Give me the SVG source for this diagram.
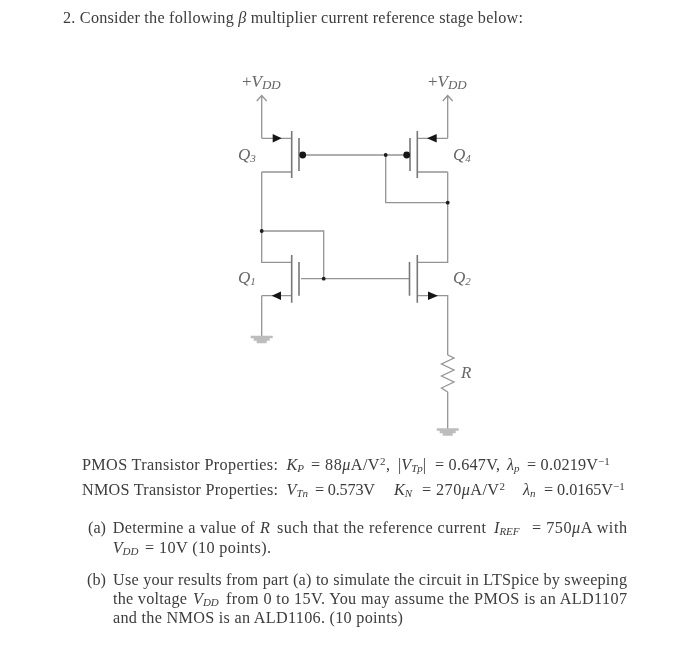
<svg xmlns="http://www.w3.org/2000/svg" width="700" height="670" viewBox="0 0 700 670">
<style>
text{font-family:"Liberation Serif","DejaVu Serif",serif;font-size:16.2px;fill:#3c3c3c}
.i{font-style:italic}
.s{font-size:11px}
.dd{font-size:13px}
.lb{font-size:17px;fill:#666;font-style:italic}
.w,.t,.p{fill:none;stroke-linecap:butt}
.w{stroke:#949494;stroke-width:1.3}
.t{stroke:#787878;stroke-width:1.6}
.g{stroke:#bdbdbd;stroke-width:2.4;fill:none}
.a{fill:#151515}
.d{fill:#1a1a1a}
</style>
<defs>
<filter id="soft" x="0" y="0" width="1" height="1" filterUnits="objectBoundingBox"><feGaussianBlur stdDeviation="0.4"/></filter>
<g id="gnd"><path class="g" d="M-11 0H11M-8 2.5H8M-5 5H5"/></g>
</defs>
<rect width="700" height="670" fill="#fff"/>
<g filter="url(#soft)">
<g id="connectors">
<path class="w" d="M261.7 138.3V96M256.7 101L261.7 95.5L266.7 101"/>
<path class="w" d="M447.7 138.3V96M442.7 101L447.7 95.5L452.7 101"/>
<path class="w" d="M261.7 138.3H291.7M261.7 172H291.7M447.7 138.3H417.3M447.7 172H417.3"/>
<path class="w" d="M305 155H406M385.7 155V202.7H447.7M261.7 172V262.3H291.7M261.7 231H323.7V278.7M301 278.7H409.5"/>
<path class="w" d="M447.7 172V262.3H417.3M261.7 295.7H291.7M261.7 295.7V336.7M417.3 295.7H447.7V355M447.7 392V429"/>
<circle class="d" cx="385.7" cy="155" r="1.9"/>
<circle class="d" cx="447.7" cy="202.7" r="1.9"/>
<circle class="d" cx="261.7" cy="231" r="1.9"/>
<circle class="d" cx="323.7" cy="278.7" r="1.9"/>
</g>
<g id="Q3">
<path class="t" d="M291.7 131V178M299 138V171"/>
<path class="a" d="M272.7 134L281.7 138.3L272.7 142.6Z"/>
<circle class="a" cx="302.7" cy="155" r="3.4"/>
<text class="lb" x="238" y="160">Q<tspan class="s" dy="2">3</tspan></text>
</g>
<g id="Q4">
<path class="t" d="M417.3 131V178M410 138V171"/>
<path class="a" d="M436.7 134L427 138.3L436.7 142.6Z"/>
<circle class="a" cx="406.7" cy="155" r="3.4"/>
<text class="lb" x="453" y="160">Q<tspan class="s" dy="2">4</tspan></text>
</g>
<g id="Q1">
<path class="t" d="M291.7 255V302.7M299 262V295.7"/>
<path class="a" d="M281 291.4L271.7 295.7L281 300Z"/>
<text class="lb" x="238" y="283">Q<tspan class="s" dy="2">1</tspan></text>
</g>
<g id="Q2">
<path class="t" d="M417.3 255V302.7M409.5 262V295.7"/>
<path class="a" d="M428 291.4L438 295.7L428 300Z"/>
<text class="lb" x="453" y="283">Q<tspan class="s" dy="2">2</tspan></text>
</g>
<g id="R">
<path class="w" d="M447.7 355L454 358L441.5 364L454 370L441.5 376L454 382L441.5 388L447.7 392"/>
<text class="lb" x="461" y="378">R</text>
</g>
<g id="VDD1"><text class="lb" x="242" y="87"><tspan font-style="normal">+</tspan>V<tspan class="dd" dy="2">DD</tspan></text></g>
<g id="VDD2"><text class="lb" x="428" y="87"><tspan font-style="normal">+</tspan>V<tspan class="dd" dy="2">DD</tspan></text></g>
<g id="GND1"><use href="#gnd" x="261.7" y="337"/></g>
<g id="GND2"><use href="#gnd" x="447.7" y="429.5"/></g>
<g id="text">
<text x="63" y="23" textLength="460">2. Consider the following <tspan class="i">β</tspan> multiplier current reference stage below:</text>

<text x="82" y="470" textLength="196">PMOS Transistor Properties:</text>
<text class="i" x="286.5" y="470">K<tspan class="s" dy="2">P</tspan></text>
<text x="311" y="470" textLength="79">= 88<tspan class="i">μ</tspan>A/V<tspan class="s" dy="-5">2</tspan><tspan dy="5">,</tspan></text>
<text x="398" y="470">|<tspan class="i">V</tspan><tspan class="s i" dy="2">Tp</tspan><tspan dy="-2">|</tspan></text>
<text x="435" y="470" textLength="65">= 0.647V,</text>
<text class="i" x="507" y="470">λ<tspan class="s" dy="2">p</tspan></text>
<text x="527" y="470" textLength="71">= 0.0219V</text>
<text class="s" x="598" y="465">−1</text>

<text x="82" y="494.5" textLength="196">NMOS Transistor Properties:</text>
<text class="i" x="286.5" y="494.5">V<tspan class="s" dy="2">Tn</tspan></text>
<text x="315" y="494.5" textLength="60">= 0.573V</text>
<text class="i" x="394" y="494.5">K<tspan class="s" dy="2">N</tspan></text>
<text x="422" y="494.5" textLength="83">= 270<tspan class="i">μ</tspan>A/V<tspan class="s" dy="-5">2</tspan></text>
<text class="i" x="523" y="494.5">λ<tspan class="s" dy="2">n</tspan></text>
<text x="544" y="494.5" textLength="69">= 0.0165V</text>
<text class="s" x="613" y="489.5">−1</text>

<text x="88" y="533">(a)</text>
<text x="112.7" y="533" textLength="142">Determine a value of</text>
<text class="i" x="260" y="533">R</text>
<text x="277" y="533" textLength="209">such that the reference current</text>
<text class="i" x="494" y="533">I<tspan class="s" dy="2">REF</tspan></text>
<text x="532" y="533" textLength="95">= 750<tspan class="i">μ</tspan>A with</text>

<text class="i" x="112.7" y="553">V<tspan class="s" dy="2">DD</tspan></text>
<text x="145" y="553" textLength="126">= 10V (10 points).</text>

<text x="87" y="585">(b)</text>
<text x="113" y="585" textLength="514">Use your results from part (a) to simulate the circuit in LTSpice by sweeping</text>
<text x="113" y="604" textLength="74">the voltage</text>
<text class="i" x="193" y="604">V<tspan class="s" dy="2">DD</tspan></text>
<text x="226" y="604" textLength="401">from 0 to 15V. You may assume the PMOS is an ALD1107</text>
<text x="113" y="623" textLength="290">and the NMOS is an ALD1106. (10 points)</text>
</g>
</g>
</svg>
